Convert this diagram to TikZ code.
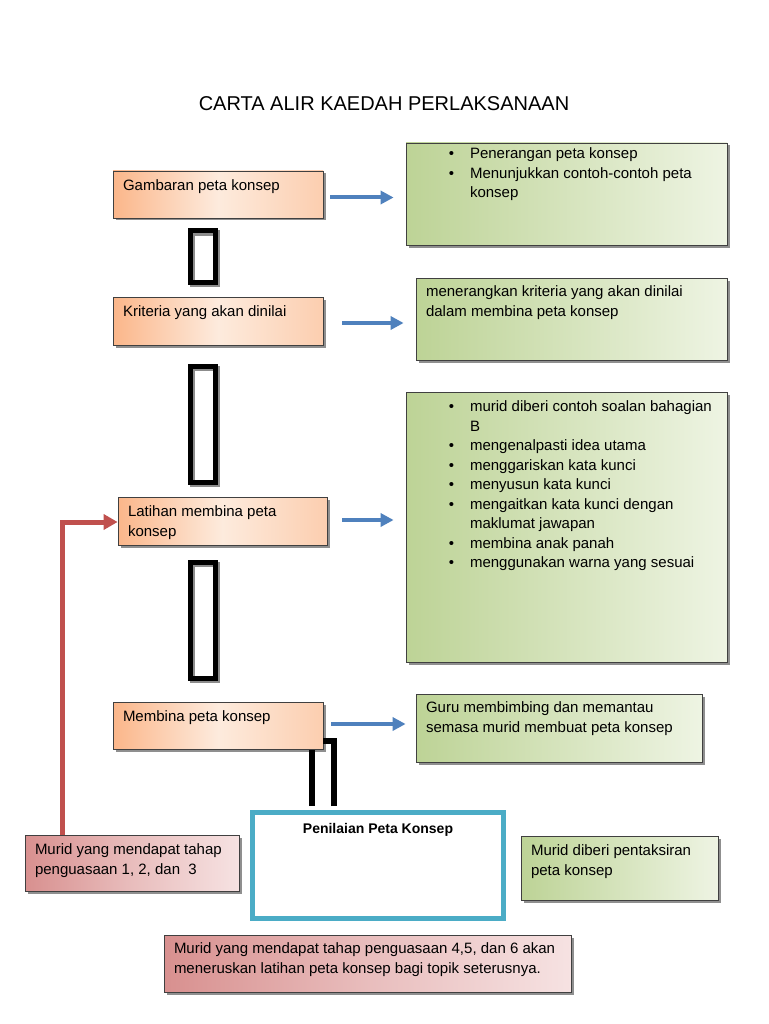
\documentclass[tikz,border=0pt]{standalone}
\usepackage{fontspec}
\setmainfont{Liberation Sans}
\usepackage{enumitem}
\usetikzlibrary{shadows,arrows.meta}
\definecolor{Or}{HTML}{FBB68A}\definecolor{OrL}{HTML}{FDEBDD}
\definecolor{Gr}{HTML}{BDD396}\definecolor{GrL}{HTML}{EEF4E3}
\definecolor{Rd}{HTML}{D8908F}\definecolor{RdL}{HTML}{F6E2E2}
\definecolor{Bl}{HTML}{4F81BD}\definecolor{RA}{HTML}{C0504D}\definecolor{Cy}{HTML}{4BACC6}
\tikzset{
 base/.style={draw=black!75,line width=0.8pt,inner sep=0pt,drop shadow={shadow xshift=2.5pt,shadow yshift=-2.5pt,fill=black!55,opacity=0.8}},
 ob/.style={base,shading angle=30,left color=Or,right color=Or!55!OrL,middle color=OrL},
 gb/.style={base,shading angle=30,left color=Gr,right color=GrL,middle color=Gr!50!GrL},
 rb/.style={base,shading angle=30,left color=Rd,right color=RdL,middle color=Rd!45!RdL},
 barr/.style={draw=Bl,line width=4pt,-{Triangle[length=13pt,width=13pt]}},
 rarr/.style={draw=RA,line width=5pt,-{Triangle[length=14pt,width=15pt]}},
 hol/.style={draw=black,line width=5pt},
 holsh/.style={draw=black!45,line width=5pt},
}
\newcommand{\bx}[7]{\node[#6,minimum width={#4-#2},minimum height={#5-#3}] (#1) at ({(#2+#4)/2},{(#3+#5)/2})
 {\parbox[c][\dimexpr#5pt-#3pt\relax][t]{\dimexpr#4pt-#2pt\relax}{\fontsize{15}{19.5}\selectfont\raggedright\leftskip=10pt\rightskip=6pt plus 1fil\vspace*{9pt}#7}};}
\newlist{bl}{itemize}{1}
\setlist[bl]{label=\textbullet,leftmargin=55pt,labelsep=16pt,rightmargin=18pt,itemsep=0pt,topsep=0pt,parsep=0pt,partopsep=0pt}
\begin{document}
\begin{tikzpicture}[x=1pt,y=-1pt]
\useasboundingbox[fill=white] (0,0) rectangle (768,1024);
\node[font=\fontsize{20}{22}\selectfont] (title) at (384,104) {CARTA ALIR KAEDAH PERLAKSANAAN};
\bx{o1}{113}{171}{323}{218}{ob}{Gambaran peta konsep}
\bx{o2}{113}{297}{323}{345}{ob}{Kriteria yang akan dinilai}
\bx{o3}{118}{497}{327}{545}{ob}{Latihan membina peta konsep}
\bx{o4}{113}{702}{323}{749}{ob}{Membina peta konsep}
\bx{g1}{406}{143}{727}{245}{gb}{\vspace*{-4pt}\leftskip=0pt\begin{bl}\item Penerangan peta konsep\item Menunjukkan contoh-contoh peta konsep\end{bl}}
\bx{g2}{416}{278}{727}{360}{gb}{\vspace*{-1pt}menerangkan kriteria yang akan dinilai dalam membina peta konsep}
\bx{g3}{406}{392}{727}{662}{gb}{\leftskip=0pt\begin{bl}\item murid diberi contoh soalan bahagian B\item mengenalpasti idea utama\item menggariskan kata kunci\item menyusun kata kunci\item mengaitkan kata kunci dengan maklumat jawapan\item membina anak panah\item menggunakan warna yang sesuai\end{bl}}
\bx{g4}{416}{694}{702}{762}{gb}{\vspace*{-1pt}Guru membimbing dan memantau semasa murid membuat peta konsep}
\bx{g5}{521}{836}{718}{900}{gb}{Murid diberi pentaksiran peta konsep}
\bx{r1}{25}{835}{239}{891}{rb}{Murid yang mendapat tahap penguasaan 1, 2, dan~ 3}
\bx{r2}{164}{935}{571}{992}{rb}{\vspace*{-1pt}Murid yang mendapat tahap penguasaan 4,5, dan 6 akan meneruskan latihan peta konsep bagi topik seterusnya.}
% hollow connectors
\draw[holsh] (192,233) rectangle (217,284);
\draw[hol] (190,231) rectangle (215,282);
\draw[holsh] (192,368) rectangle (217,484);
\draw[hol] (190,366) rectangle (215,482);
\draw[holsh] (192,564) rectangle (217,680);
\draw[hol] (190,562) rectangle (215,678);
\draw[black,line width=6pt] (312,806) -- (312,750);
\draw[black,line width=6pt] (334,806) -- (334,741) -- (323,741);
\node[draw=Cy,line width=5pt,fill=white,minimum width=251,minimum height=106,inner sep=0pt] (p) at (378,865.5) {};
\node[font=\bfseries\fontsize{14}{15}\selectfont,anchor=north] (pt) at (378,820) {Penilaian Peta Konsep};
% arrows
\draw[barr] ([xshift=7pt,yshift=-3pt]o1.east) -- ([xshift=-12pt,yshift=-3pt]o1.east -| g1.west);
\draw[barr] ([xshift=19pt,yshift=-2pt]o2.east) -- ([xshift=-12pt,yshift=-2pt]o2.east -| g2.west);
\draw[barr] ([xshift=15pt,yshift=1pt]o3.east) -- ([xshift=-12pt,yshift=1pt]o3.east -| g3.west);
\draw[barr] ([xshift=8pt,yshift=1.5pt]o4.east) -- ([xshift=-10pt,yshift=1.5pt]o4.east -| g4.west);
\draw[rarr] (r1.north -| 62,0) -- (62,522) -- (o3.west |- 0,522);
\end{tikzpicture}
\end{document}
